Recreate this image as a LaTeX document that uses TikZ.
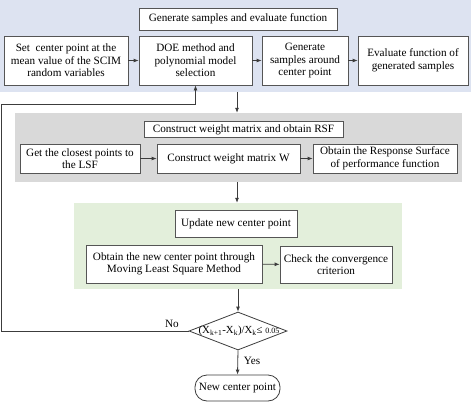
\documentclass[tikz,border=0pt]{standalone}
\usepackage{fontspec}
\setmainfont{Liberation Serif}
\usetikzlibrary{arrows.meta,shapes.geometric,calc}
\definecolor{bluep}{RGB}{221,227,241}
\definecolor{grayp}{RGB}{217,217,217}
\definecolor{greenp}{RGB}{227,239,219}
\definecolor{boxc}{RGB}{85,85,85}
\definecolor{linec}{RGB}{60,60,60}
\begin{document}
\begin{tikzpicture}[x=1pt,y=-1pt,
  box/.style={draw=boxc, line width=0.8pt, fill=white, align=center, inner sep=0pt,
    font=\fontsize{11.2}{12.6}\selectfont},
  panel/.style={inner sep=0pt, draw=none},
  arr/.style={draw=linec, line width=0.8pt, -{Latex[length=5pt,width=4pt]}},
  ln/.style={draw=linec, line width=0.8pt},
  lbl/.style={font=\fontsize{11.2}{12.6}\selectfont, inner sep=0pt}
]
\useasboundingbox (0,0) rectangle (474,402);
\fill[white] (0,0) rectangle (474,402);
% panels
\node[panel, fill=bluep, minimum width=471, minimum height=92] (bluepanel) at (235.5,46) {};
\node[panel, fill=grayp, minimum width=447, minimum height=69] (graypanel) at (238.5,147.5) {};
\node[panel, fill=greenp, minimum width=328, minimum height=86] (greenpanel) at (238,246) {};
% blue panel boxes
\node[box, minimum width=198, minimum height=22] (t1) at (238,19) {Generate samples and evaluate function};
\node[box, minimum width=124, minimum height=49] (b1) at (66,60.5) {Set\ \ center point at the\\mean value of the SCIM\\random variables};
\node[box, minimum width=113, minimum height=49] (b2) at (195.5,60.5) {DOE method and\\polynomial model\\selection};
\node[box, minimum width=86, minimum height=49] (b3) at (305,60.5) {Generate\\samples around\\center point};
\node[box, minimum width=110, minimum height=49] (b4) at (413,60.5) {Evaluate function of\\generated samples};
\draw[arr] (b1) -- (b2);
\draw[arr] (b2) -- (b3);
\draw[arr] (b3) -- (b4);
% gray panel boxes
\node[box, minimum width=199, minimum height=16] (t2) at (243.5,129.5) {Construct weight matrix and obtain RSF};
\node[box, minimum width=120, minimum height=29] (g1) at (80,158.5) {Get the closest points to\\the LSF};
\node[box, minimum width=143, minimum height=29] (g2) at (228.5,158.5) {Construct weight matrix W};
\node[box, minimum width=144, minimum height=29] (g3) at (385,158.5) {Obtain the Response Surface\\of performance function};
\draw[arr] (g1) -- (g2);
\draw[arr] (g2) -- (g3);
% green panel boxes
\node[box, minimum width=122, minimum height=27] (t3) at (236,223.5) {Update new center point};
\node[box, minimum width=176, minimum height=38] (p1) at (174,264) {Obtain the new center point through\\Moving Least Square Method};
\node[box, minimum width=112, minimum height=37] (p2) at (336,264.5) {Check the convergence\\criterion};
\draw[arr] (p1) -- (p2);
% decision
\node[draw=linec, line width=0.8pt, shape=diamond, aspect=2.58, minimum width=98, minimum height=38, inner sep=0pt] (dia) at (238,331) {};
\node[lbl, font=\fontsize{10.8}{12}\selectfont] (diatext) at (239,331) {(X\textsubscript{k+1}-X\textsubscript{k})/X\textsubscript{k}≤ {\fontsize{8}{9}\selectfont 0.05}};
\node[draw=linec, line width=0.8pt, rounded corners=12pt, minimum width=85, minimum height=26, inner sep=0pt,
  font=\fontsize{11.2}{12.6}\selectfont] (endn) at (237.5,388) {New center point};
% connectors between panels
\coordinate (mx) at (237,0);
\draw[arr] (bluepanel.south -| mx) -- (graypanel.north -| mx);
\draw[arr] (graypanel.south -| mx) -- (greenpanel.north -| mx);
\draw[arr] (greenpanel.south -| dia.north) -- (dia.north);
\draw[arr] (dia.south) -- (endn.north);
% feedback loop
\coordinate (c1) at (1,331);
\coordinate (c2) at (1,104);
\draw[arr] (dia.west) -- (c1) -- (c2) -| (b2.south);
\node[lbl] (nolbl) at (172,324) {No};
\node[lbl] (yeslbl) at (252,361) {Yes};
\end{tikzpicture}
\end{document}
